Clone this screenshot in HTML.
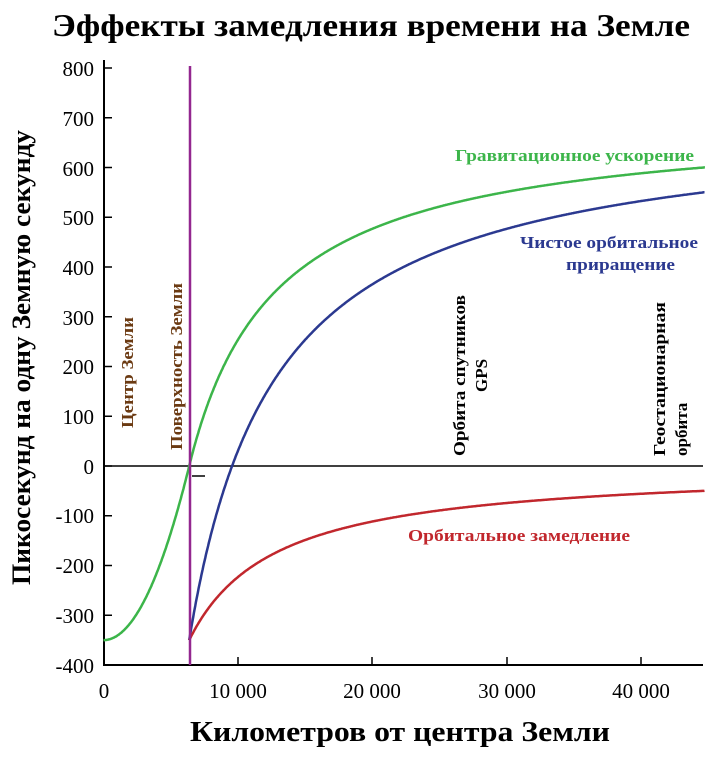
<!DOCTYPE html>
<html><head><meta charset="utf-8"><style>
body{margin:0;background:#fff;}
svg text{font-family:"Liberation Serif",serif;font-weight:bold;}
.n{font-weight:normal !important;}
</style></head><body>
<svg id="s" width="708" height="769" viewBox="0 0 708 769" xmlns="http://www.w3.org/2000/svg">
<text x="52" y="36" font-size="32" textLength="638" lengthAdjust="spacingAndGlyphs">Эффекты замедления времени на Земле</text>
<g font-size="21" text-anchor="end">
<text class="n" x="94" y="76">800</text>
<text class="n" x="94" y="126">700</text>
<text class="n" x="94" y="176">600</text>
<text class="n" x="94" y="225">500</text>
<text class="n" x="94" y="275">400</text>
<text class="n" x="94" y="325">300</text>
<text class="n" x="94" y="374">200</text>
<text class="n" x="94" y="424">100</text>
<text class="n" x="94" y="474">0</text>
<text class="n" x="94" y="523">-100</text>
<text class="n" x="94" y="573">-200</text>
<text class="n" x="94" y="623">-300</text>
<text class="n" x="94" y="673">-400</text>
</g>
<g font-size="21" text-anchor="middle">
<text class="n" x="104" y="698">0</text>
<text class="n" x="238" y="698">10 000</text>
<text class="n" x="372" y="698">20 000</text>
<text class="n" x="507" y="698">30 000</text>
<text class="n" x="641" y="698">40 000</text>
</g>
<text x="190" y="741" font-size="28" textLength="420" lengthAdjust="spacingAndGlyphs">Километров от центра Земли</text>
<text transform="translate(30,585) rotate(-90)" font-size="26" textLength="455" lengthAdjust="spacingAndGlyphs">Пикосекунд на одну Земную секунду</text>
<g id="ticks" stroke="#000" stroke-width="1.5"></g>
<line x1="104" y1="466" x2="703" y2="466" stroke="#000" stroke-width="1.5"/>
<line x1="104" y1="60" x2="104" y2="665" stroke="#000" stroke-width="2"/>
<line x1="103" y1="665" x2="703" y2="665" stroke="#000" stroke-width="2"/>
<line x1="192" y1="476" x2="205" y2="476" stroke="#000" stroke-width="1.5"/>
<path id="g" fill="none" stroke="#3cb54a" stroke-width="2.5"/>
<path id="b" fill="none" stroke="#2b3990" stroke-width="2.5"/>
<path id="r" fill="none" stroke="#c1272d" stroke-width="2.5"/>
<line x1="190" y1="66" x2="190" y2="665" stroke="#93278f" stroke-width="2.5"/>
<text x="455" y="161" font-size="17" fill="#3cb54a" textLength="239" lengthAdjust="spacingAndGlyphs">Гравитационное ускорение</text>
<text x="520" y="248" font-size="17" fill="#2b3990" textLength="178" lengthAdjust="spacingAndGlyphs">Чистое орбитальное</text>
<text x="566" y="270" font-size="17" fill="#2b3990" textLength="109" lengthAdjust="spacingAndGlyphs">приращение</text>
<text x="408" y="541" font-size="17" fill="#c1272d" textLength="222" lengthAdjust="spacingAndGlyphs">Орбитальное замедление</text>
<text transform="translate(133,428) rotate(-90)" font-size="17" fill="#6b3a12" textLength="111" lengthAdjust="spacingAndGlyphs">Центр Земли</text>
<text transform="translate(182,450) rotate(-90)" font-size="17" fill="#6b3a12" textLength="167" lengthAdjust="spacingAndGlyphs">Поверхность Земли</text>
<text transform="translate(465,456) rotate(-90)" font-size="17" textLength="161" lengthAdjust="spacingAndGlyphs">Орбита спутников</text>
<text transform="translate(487,392) rotate(-90)" font-size="17">GPS</text>
<text transform="translate(665,456) rotate(-90)" font-size="17" textLength="154" lengthAdjust="spacingAndGlyphs">Геостационарная</text>
<text transform="translate(687,456) rotate(-90)" font-size="17">орбита</text>
</svg>
<script>
var X=function(r){return 103.5+r*0.013455},Y=function(v){return 466-v*0.4975},R=6371;
var g="",b="",rr="";
for(var r=0;r<=44700;r+=50){var v=r<R?350*(r*r/R/R-1):700*(1-R/r);g+=(r?"L":"M")+X(r).toFixed(1)+" "+Y(v).toFixed(1);}
var f=1;for(var r=R;r<=44700;r+=50){b+=(f?"M":"L")+X(r).toFixed(1)+" "+Y(700-1050*R/r).toFixed(1);rr+=(f?"M":"L")+X(r).toFixed(1)+" "+Y(-350*R/r).toFixed(1);f=0;}
document.getElementById("g").setAttribute("d",g);document.getElementById("b").setAttribute("d",b);document.getElementById("r").setAttribute("d",rr);
var t="";for(var i=0;i<13;i++){var y=68+i*49.75;t+='<line x1="104" y1="'+y+'" x2="112" y2="'+y+'"/>';}
[238,372,507,641].forEach(function(x){t+='<line x1="'+x+'" y1="665" x2="'+x+'" y2="657"/>';});
document.getElementById("ticks").innerHTML=t;
</script>
</body></html>
